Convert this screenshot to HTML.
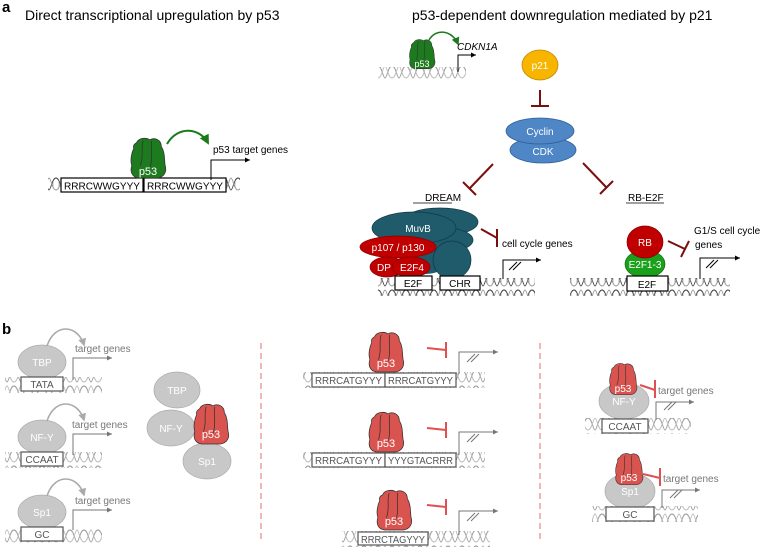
<!DOCTYPE html>
<html><head><meta charset="utf-8"><style>
html,body{margin:0;padding:0;background:#fff;}
svg{display:block;font-family:"Liberation Sans",sans-serif;}
</style></head><body>
<svg width="766" height="548" viewBox="0 0 766 548" xmlns="http://www.w3.org/2000/svg">
<defs>
<pattern id="dna" width="14" height="16" patternUnits="userSpaceOnUse">
<path d="M0 2 C4 2 5 14 7 14 C9 14 10 2 14 2" fill="none" stroke="#444" stroke-width="0.9"/>
<path d="M0 14 C4 14 5 2 7 2 C9 2 10 14 14 14" fill="none" stroke="#999" stroke-width="0.9"/>
<line x1="3" y1="5" x2="3" y2="11" stroke="#777" stroke-width="0.5"/>
<line x1="11" y1="5" x2="11" y2="11" stroke="#777" stroke-width="0.5"/>
</pattern>
<pattern id="dnag" width="14" height="16" patternUnits="userSpaceOnUse">
<path d="M0 2 C4 2 5 14 7 14 C9 14 10 2 14 2" fill="none" stroke="#999" stroke-width="0.9"/>
<path d="M0 14 C4 14 5 2 7 2 C9 2 10 14 14 14" fill="none" stroke="#bbb" stroke-width="0.9"/>
</pattern>
<symbol id="p53" viewBox="0 0 40 44">
<path d="M8 6 C10 1 18 0 22 3 C27 0 34 3 34 10 C38 16 37 24 38 30 C40 36 37 42 30 43 L10 43 C3 42 1 36 3 30 C1 24 3 16 5 12 C4 9 6 7 8 6Z" stroke="#333" stroke-width="0.8"/>
<path d="M15 4 C12 12 16 20 12 30 M24 4 C22 12 26 22 22 32" fill="none" stroke="#333" stroke-width="0.8"/>
</symbol>
<marker id="ah" markerWidth="8" markerHeight="8" refX="5" refY="3" orient="auto"><path d="M0 0.5 L5 3 L0 5.5Z" fill="#000"/></marker>
<marker id="ahg" markerWidth="8" markerHeight="8" refX="5" refY="3" orient="auto"><path d="M0 0.5 L5 3 L0 5.5Z" fill="#777"/></marker>
<marker id="ahgr" markerWidth="8" markerHeight="8" refX="4" refY="3" orient="auto"><path d="M0 0.5 L5 3 L0 5.5Z" fill="#1a7a1a"/></marker>
<marker id="ahgy" markerWidth="8" markerHeight="8" refX="4" refY="3" orient="auto"><path d="M0 0.5 L5 3 L0 5.5Z" fill="#aaa"/></marker>
</defs>

<text x="2" y="12" font-size="15" font-weight="bold">a</text>
<text x="25" y="20" font-size="14">Direct transcriptional upregulation by p53</text>
<text x="412" y="20" font-size="14">p53-dependent downregulation mediated by p21</text>

<!-- left top -->
<rect x="48" y="177" width="192" height="16" fill="url(#dna)"/>
<rect x="61" y="178" width="82" height="14" fill="#fff" stroke="#000" stroke-width="1.2"/>
<rect x="144" y="178" width="82" height="14" fill="#fff" stroke="#000" stroke-width="1.2"/>
<text x="64" y="189.5" font-size="10.5" textLength="76" lengthAdjust="spacingAndGlyphs">RRRCWWGYYY</text>
<text x="147" y="189.5" font-size="10.5" textLength="76" lengthAdjust="spacingAndGlyphs">RRRCWWGYYY</text>
<use href="#p53" x="128" y="137" width="40" height="42" fill="#1e7a1e"/>
<text x="148" y="175" font-size="11" fill="#fff" text-anchor="middle">p53</text>
<path d="M167 144 C178 125 200 128 208 143" fill="none" stroke="#1a7a1a" stroke-width="2" marker-end="url(#ahgr)"/>
<path d="M211 180 L211 160 L250 160" fill="none" stroke="#000" stroke-width="1" marker-end="url(#ah)"/>
<text x="213" y="153" font-size="10">p53 target genes</text>

<!-- top right p53 -->
<rect x="378" y="67" width="88" height="14" fill="url(#dnag)"/>
<use href="#p53" x="408" y="38" width="28" height="32" fill="#1e7a1e"/>
<text x="422" y="67" font-size="9" fill="#fff" text-anchor="middle">p53</text>
<path d="M429 40 C436 28 452 30 458 44" fill="none" stroke="#1a7a1a" stroke-width="1.6" marker-end="url(#ahgr)"/>
<path d="M458 72 L458 55 L476 55" fill="none" stroke="#000" stroke-width="1" marker-end="url(#ah)"/>
<text x="457" y="50" font-size="10" font-style="italic">CDKN1A</text>

<ellipse cx="540" cy="65" rx="18" ry="15" fill="#f7b500" stroke="#c08800" stroke-width="0.8"/>
<text x="540" y="69" font-size="10" fill="#fff" text-anchor="middle">p21</text>
<line x1="540" y1="90" x2="540" y2="106" stroke="#7a0f0f" stroke-width="2"/>
<line x1="531" y1="106" x2="549" y2="106" stroke="#7a0f0f" stroke-width="2"/>
<ellipse cx="543" cy="150" rx="33" ry="13" fill="#4f86c6" stroke="#2f5f99" stroke-width="0.8"/>
<ellipse cx="540" cy="131" rx="34" ry="13" fill="#4f86c6" stroke="#2f5f99" stroke-width="0.8"/>
<text x="540" y="135" font-size="10" fill="#fff" text-anchor="middle">Cyclin</text>
<text x="543" y="155" font-size="10" fill="#fff" text-anchor="middle">CDK</text>
<line x1="493" y1="164" x2="470" y2="188" stroke="#7a0f0f" stroke-width="2"/>
<line x1="463" y1="182" x2="476" y2="195" stroke="#7a0f0f" stroke-width="2"/>
<line x1="583" y1="163" x2="606" y2="187" stroke="#7a0f0f" stroke-width="2"/>
<line x1="600" y1="194" x2="613" y2="181" stroke="#7a0f0f" stroke-width="2"/>
<text x="425" y="201" font-size="10">DREAM</text>
<line x1="413" y1="203" x2="452" y2="203" stroke="#000" stroke-width="0.8"/>
<text x="628" y="201" font-size="10">RB-E2F</text>
<line x1="626" y1="203" x2="664" y2="203" stroke="#000" stroke-width="0.8"/>

<!-- DREAM -->
<rect x="378" y="278" width="157" height="18" fill="url(#dna)"/>
<ellipse cx="440" cy="222" rx="38" ry="14" fill="#1f5b6b" stroke="#103844" stroke-width="0.7"/>
<ellipse cx="445" cy="240" rx="28" ry="12" fill="#1f5b6b" stroke="#103844" stroke-width="0.7"/>
<ellipse cx="414" cy="228" rx="42" ry="16" fill="#1f5b6b" stroke="#103844" stroke-width="0.7"/>
<text x="418" y="232" font-size="10" fill="#fff" text-anchor="middle">MuvB</text>
<ellipse cx="425" cy="262" rx="22" ry="12" fill="#1f5b6b"/>
<circle cx="452" cy="260" r="19" fill="#1f5b6b" stroke="#103844" stroke-width="0.7"/>
<ellipse cx="398" cy="247" rx="38" ry="11" fill="#c00000" stroke="#800" stroke-width="0.7"/>
<text x="398" y="251" font-size="10" fill="#fff" text-anchor="middle">p107 / p130</text>
<ellipse cx="387" cy="267" rx="17" ry="10" fill="#c00000" stroke="#800" stroke-width="0.7"/>
<ellipse cx="411" cy="267" rx="19" ry="10" fill="#c00000" stroke="#800" stroke-width="0.7"/>
<text x="384" y="271" font-size="10" fill="#fff" text-anchor="middle">DP</text>
<text x="412" y="271" font-size="10" fill="#fff" text-anchor="middle">E2F4</text>
<rect x="395" y="276" width="37" height="14" fill="#fff" stroke="#000" stroke-width="1.2"/>
<rect x="440" y="276" width="40" height="14" fill="#fff" stroke="#000" stroke-width="1.2"/>
<text x="413" y="287" font-size="10" text-anchor="middle">E2F</text>
<text x="460" y="287" font-size="10" text-anchor="middle">CHR</text>
<line x1="481" y1="229" x2="497" y2="238" stroke="#7a0f0f" stroke-width="2"/>
<line x1="497" y1="229" x2="497" y2="247" stroke="#7a0f0f" stroke-width="2"/>
<text x="502" y="247" font-size="10">cell cycle genes</text>
<path d="M503 279 L503 260 L541 260" fill="none" stroke="#000" stroke-width="1" marker-end="url(#ah)"/>
<path d="M509 270 L517 262 M513 270 L521 262" stroke="#000" stroke-width="1"/>

<!-- RB-E2F -->
<rect x="570" y="278" width="160" height="18" fill="url(#dna)"/>
<ellipse cx="645" cy="264" rx="20" ry="14" fill="#1aa01a" stroke="#0c6a0c" stroke-width="0.7"/>
<text x="645" y="268" font-size="10" fill="#fff" text-anchor="middle">E2F1-3</text>
<ellipse cx="645" cy="242" rx="18" ry="16" fill="#c00000" stroke="#800" stroke-width="0.7"/>
<text x="645" y="246" font-size="10" fill="#fff" text-anchor="middle">RB</text>
<rect x="627" y="276" width="41" height="15" fill="#fff" stroke="#000" stroke-width="1.2"/>
<text x="647" y="288" font-size="10" text-anchor="middle">E2F</text>
<line x1="668" y1="241" x2="685" y2="249" stroke="#7a0f0f" stroke-width="2"/>
<line x1="681" y1="257" x2="689" y2="241" stroke="#7a0f0f" stroke-width="2"/>
<text x="694" y="234" font-size="10">G1/S cell cycle</text>
<text x="695" y="248" font-size="10">genes</text>
<path d="M700 279 L700 258 L740 258" fill="none" stroke="#000" stroke-width="1" marker-end="url(#ah)"/>
<path d="M706 268 L714 260 M710 268 L718 260" stroke="#000" stroke-width="1"/>

<!-- panel b -->
<text x="2" y="334" font-size="15" font-weight="bold">b</text>
<line x1="261" y1="343" x2="261" y2="540" stroke="#e8a0a0" stroke-width="1.5" stroke-dasharray="6,4"/>
<line x1="540" y1="343" x2="540" y2="540" stroke="#e8a0a0" stroke-width="1.5" stroke-dasharray="6,4"/>

<!-- left column -->
<g font-size="10">
<rect x="5" y="377" width="97" height="16" fill="url(#dnag)"/>
<ellipse cx="42" cy="362" rx="24" ry="17" fill="#c8c8c8" stroke="#aaa" stroke-width="0.7"/>
<text x="42" y="366" fill="#fff" text-anchor="middle">TBP</text>
<rect x="21" y="377" width="42" height="14" fill="#fff" stroke="#555" stroke-width="1.2"/>
<text x="42" y="388" fill="#555" text-anchor="middle">TATA</text>
<path d="M47 346 C55 322 78 325 84 345" fill="none" stroke="#aaa" stroke-width="1.6" marker-end="url(#ahgy)"/>
<path d="M73 380 L73 358 L112 358" fill="none" stroke="#777" stroke-width="1" marker-end="url(#ahg)"/>
<text x="75" y="352" fill="#777" font-size="10">target genes</text>

<rect x="5" y="452" width="97" height="16" fill="url(#dnag)"/>
<ellipse cx="42" cy="437" rx="24" ry="17" fill="#c8c8c8" stroke="#aaa" stroke-width="0.7"/>
<text x="42" y="441" fill="#fff" text-anchor="middle">NF-Y</text>
<rect x="21" y="452" width="42" height="14" fill="#fff" stroke="#555" stroke-width="1.2"/>
<text x="42" y="463" fill="#555" text-anchor="middle">CCAAT</text>
<path d="M47 421 C55 397 78 400 84 420" fill="none" stroke="#aaa" stroke-width="1.6" marker-end="url(#ahgy)"/>
<path d="M73 455 L73 434 L112 434" fill="none" stroke="#777" stroke-width="1" marker-end="url(#ahg)"/>
<text x="72" y="428" fill="#777" font-size="10">target genes</text>

<rect x="5" y="527" width="97" height="16" fill="url(#dnag)"/>
<ellipse cx="42" cy="512" rx="24" ry="17" fill="#c8c8c8" stroke="#aaa" stroke-width="0.7"/>
<text x="42" y="516" fill="#fff" text-anchor="middle">Sp1</text>
<rect x="21" y="527" width="42" height="14" fill="#fff" stroke="#555" stroke-width="1.2"/>
<text x="42" y="538" fill="#555" text-anchor="middle">GC</text>
<path d="M47 496 C55 472 78 475 84 495" fill="none" stroke="#aaa" stroke-width="1.6" marker-end="url(#ahgy)"/>
<path d="M73 530 L73 510 L112 510" fill="none" stroke="#777" stroke-width="1" marker-end="url(#ahg)"/>
<text x="75" y="504" fill="#777" font-size="10">target genes</text>

<!-- cluster -->
<ellipse cx="177" cy="390" rx="23" ry="18" fill="#c8c8c8" stroke="#aaa" stroke-width="0.7"/>
<text x="177" y="394" fill="#fff" text-anchor="middle">TBP</text>
<ellipse cx="207" cy="461" rx="24" ry="18" fill="#c8c8c8" stroke="#aaa" stroke-width="0.7"/>
<text x="207" y="465" fill="#fff" text-anchor="middle">Sp1</text>
<ellipse cx="171" cy="428" rx="24" ry="18" fill="#c8c8c8" stroke="#aaa" stroke-width="0.7"/>
<text x="171" y="432" fill="#fff" text-anchor="middle">NF-Y</text>
<use href="#p53" x="192" y="402" width="38" height="44" fill="#d9534f"/>
<text x="211" y="438" fill="#fff" text-anchor="middle" font-size="11">p53</text>
</g>

<!-- middle rows -->
<g font-size="10">
<rect x="303" y="372" width="182" height="16" fill="url(#dnag)"/>
<use href="#p53" x="367" y="330" width="38" height="44" fill="#d9534f"/>
<text x="386" y="367" fill="#fff" text-anchor="middle" font-size="11">p53</text>
<rect x="312" y="373" width="73" height="14" fill="#fff" stroke="#555" stroke-width="1.2"/>
<rect x="385" y="373" width="71" height="14" fill="#fff" stroke="#555" stroke-width="1.2"/>
<text x="315" y="384" fill="#555" textLength="67" lengthAdjust="spacingAndGlyphs">RRRCATGYYY</text>
<text x="388" y="384" fill="#555" textLength="65" lengthAdjust="spacingAndGlyphs">RRRCATGYYY</text>
<line x1="427" y1="348" x2="446" y2="350" stroke="#e05050" stroke-width="2"/>
<line x1="446" y1="342" x2="446" y2="358" stroke="#e05050" stroke-width="2"/>
<path d="M459 374 L459 352 L498 352" fill="none" stroke="#777" stroke-width="1" marker-end="url(#ahg)"/>
<path d="M467 362 L475 354 M471 362 L479 354" stroke="#777" stroke-width="1"/>

<rect x="303" y="452" width="182" height="16" fill="url(#dnag)"/>
<use href="#p53" x="367" y="410" width="38" height="44" fill="#d9534f"/>
<text x="386" y="447" fill="#fff" text-anchor="middle" font-size="11">p53</text>
<rect x="312" y="453" width="73" height="14" fill="#fff" stroke="#555" stroke-width="1.2"/>
<rect x="385" y="453" width="71" height="14" fill="#fff" stroke="#555" stroke-width="1.2"/>
<text x="315" y="464" fill="#555" textLength="67" lengthAdjust="spacingAndGlyphs">RRRCATGYYY</text>
<text x="388" y="464" fill="#555" textLength="65" lengthAdjust="spacingAndGlyphs">YYYGTACRRR</text>
<line x1="427" y1="428" x2="446" y2="430" stroke="#e05050" stroke-width="2"/>
<line x1="446" y1="422" x2="446" y2="438" stroke="#e05050" stroke-width="2"/>
<path d="M459 455 L459 432 L498 432" fill="none" stroke="#777" stroke-width="1" marker-end="url(#ahg)"/>
<path d="M467 442 L475 434 M471 442 L479 434" stroke="#777" stroke-width="1"/>

<rect x="342" y="531" width="148" height="16" fill="url(#dnag)"/>
<use href="#p53" x="375" y="488" width="38" height="44" fill="#d9534f"/>
<text x="394" y="525" fill="#fff" text-anchor="middle" font-size="11">p53</text>
<rect x="358" y="532" width="70" height="13" fill="#fff" stroke="#555" stroke-width="1.2"/>
<text x="361" y="543" fill="#555" textLength="64" lengthAdjust="spacingAndGlyphs">RRRCTAGYYY</text>
<line x1="427" y1="505" x2="446" y2="507" stroke="#e05050" stroke-width="2"/>
<line x1="446" y1="499" x2="446" y2="515" stroke="#e05050" stroke-width="2"/>
<path d="M459 535 L459 511 L498 511" fill="none" stroke="#777" stroke-width="1" marker-end="url(#ahg)"/>
<path d="M467 521 L475 513 M471 521 L479 513" stroke="#777" stroke-width="1"/>
</g>

<!-- right column -->
<g font-size="10">
<rect x="585" y="418" width="106" height="16" fill="url(#dnag)"/>
<ellipse cx="624" cy="401" rx="25" ry="18" fill="#c8c8c8" stroke="#aaa" stroke-width="0.7"/>
<text x="624" y="405" fill="#fff" text-anchor="middle">NF-Y</text>
<use href="#p53" x="608" y="362" width="30" height="34" fill="#d9534f"/>
<text x="623" y="392" fill="#fff" text-anchor="middle">p53</text>
<rect x="602" y="419" width="46" height="14" fill="#fff" stroke="#555" stroke-width="1.2"/>
<text x="625" y="430" fill="#555" text-anchor="middle">CCAAT</text>
<line x1="640" y1="385" x2="655" y2="390" stroke="#e05050" stroke-width="2"/>
<line x1="655" y1="380" x2="655" y2="398" stroke="#e05050" stroke-width="2"/>
<text x="658" y="394" fill="#777">target genes</text>
<path d="M656 420 L656 402 L694 402" fill="none" stroke="#777" stroke-width="1" marker-end="url(#ahg)"/>
<path d="M664 410 L672 402 M668 410 L676 402" stroke="#777" stroke-width="1"/>

<rect x="592" y="506" width="106" height="16" fill="url(#dnag)"/>
<ellipse cx="630" cy="491" rx="25" ry="18" fill="#c8c8c8" stroke="#aaa" stroke-width="0.7"/>
<text x="630" y="495" fill="#fff" text-anchor="middle">Sp1</text>
<use href="#p53" x="614" y="452" width="30" height="34" fill="#d9534f"/>
<text x="629" y="481" fill="#fff" text-anchor="middle">p53</text>
<rect x="606" y="507" width="48" height="14" fill="#fff" stroke="#555" stroke-width="1.2"/>
<text x="630" y="518" fill="#555" text-anchor="middle">GC</text>
<line x1="643" y1="474" x2="660" y2="478" stroke="#e05050" stroke-width="2"/>
<line x1="660" y1="468" x2="660" y2="486" stroke="#e05050" stroke-width="2"/>
<text x="663" y="482" fill="#777">target genes</text>
<path d="M662 508 L662 490 L700 490" fill="none" stroke="#777" stroke-width="1" marker-end="url(#ahg)"/>
<path d="M670 498 L678 490 M674 498 L682 490" stroke="#777" stroke-width="1"/>
</g>
</svg>
</body></html>
